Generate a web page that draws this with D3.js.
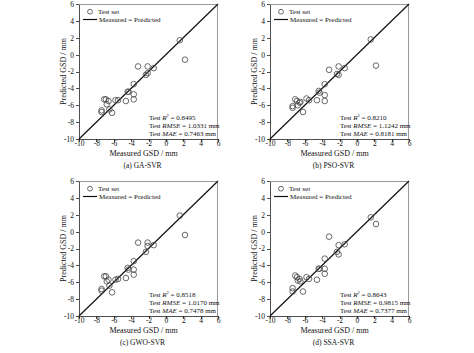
<!DOCTYPE html>
<html lang="en">
<head>
  <meta charset="utf-8">
  <title>GSD predictions</title>
  <script src="https://d3js.org/d3.v7.min.js"></script>
  <style>
    body { margin: 0; background: #fff; }
    svg text { font-family: "Liberation Serif", "Times New Roman", serif; fill: #111; }
    .axis path, .axis line { stroke: #222; stroke-width: 0.8; shape-rendering: crispEdges; }
    .axis text { font-size: 7.5px; }
  </style>
</head>
<body>
<script type="text/javascript">

  // measured GSD of the test set (same for all models)
  var measured = [1.6, 2.2, -3.2, -2.1, -1.4, -2.3, -2.1, -3.7, -4.4, -4.3, -3.7, -3.7,
                  -4.6, -5.8, -5.5, -7.1, -6.9, -6.6, -6.8, -7.4, -7.4, -6.2, -6.5];

  // predicted GSD per model
  var predGA  = [1.7, -0.6, -1.4, -1.4, -1.6, -2.4, -2.2, -3.5, -4.4, -4.4, -4.7, -5.3,
                 -5.5, -5.4, -5.4, -5.3, -5.3, -5.5, -5.9, -6.6, -6.8, -6.9, -6.5];
  var predPSO = [1.8, -1.3, -1.8, -1.4, -1.6, -2.3, -2.4, -3.5, -4.3, -4.5, -4.8, -5.5,
                 -5.4, -5.2, -5.4, -5.3, -5.5, -5.7, -6.0, -6.1, -6.3, -6.8, -5.6];
  var predGWO = [1.9, -0.4, -1.3, -1.3, -1.6, -2.4, -1.7, -3.5, -4.3, -4.5, -4.5, -5.1,
                 -5.5, -5.7, -5.6, -5.3, -5.3, -5.7, -5.9, -6.8, -7.0, -7.2, -6.4];
  var predSSA = [1.7, 0.9, -0.6, -1.6, -1.5, -2.4, -2.7, -3.2, -4.4, -4.4, -4.4, -5.0,
                 -5.7, -5.4, -5.6, -5.2, -5.4, -5.6, -5.8, -6.7, -7.1, -7.1, -5.9];

  var captions = ["(a) GA-SVR", "(b) PSO-SVR", "(c) GWO-SVR", "(d) SSA-SVR"];
  var r2Values   = ["0.8495", "0.8210", "0.8518", "0.8643"];
  var rmseValues = ["1.0331", "1.1242", "1.0170", "0.9815"];
  var maeValues  = ["0.7463", "0.8181", "0.7478", "0.7377"];

  var tickValues = [-10, -8, -6, -4, -2, 0, 2, 4, 6];
  var axisDomain = [-10, 6];

  var predictions = [predGA, predPSO, predGWO, predSSA];

  var width = 474, height = 353;
  var plotW = 139, plotH = 135;
  var origins = [[79, 4], [270, 4], [79, 181], [270, 181]];

  var svg = d3.select("body").append("svg")
              .attr("width", width)
              .attr("height", height);

  var xScale = d3.scaleLinear().domain(axisDomain).range([0, plotW]);
  var yScale = d3.scaleLinear().domain(axisDomain).range([plotH, 0]);

  function drawPanel(i) {
    var g = svg.append("g")
               .attr("transform", "translate(" + origins[i][0] + "," + origins[i][1] + ")");

    // top / right frame in gray
    g.append("line").attr("x1", 0).attr("x2", plotW).attr("y1", 0.5).attr("y2", 0.5)
     .attr("stroke", "#9a9a9a").attr("stroke-width", 1);
    g.append("line").attr("x1", plotW - 0.5).attr("x2", plotW - 0.5).attr("y1", 0).attr("y2", plotH)
     .attr("stroke", "#9a9a9a").attr("stroke-width", 1);

    var xAxis = d3.axisBottom(xScale).tickValues(tickValues).tickSize(3).tickSizeOuter(0)
                  .tickFormat(function(d) { return String(d); });
    var yAxis = d3.axisLeft(yScale).tickValues(tickValues).tickSize(3).tickSizeOuter(0)
                  .tickFormat(function(d) { return String(d); });

    g.append("g").attr("class", "axis")
     .attr("transform", "translate(0," + plotH + ")")
     .call(xAxis)
     .selectAll("text").attr("dy", "0.55em").attr("y", 3);

    g.append("g").attr("class", "axis")
     .call(yAxis)
     .selectAll("text").attr("x", -5);

    // 1:1 line
    g.append("line")
     .attr("x1", xScale(axisDomain[0])).attr("y1", yScale(axisDomain[0]))
     .attr("x2", xScale(axisDomain[1])).attr("y2", yScale(axisDomain[1]))
     .attr("stroke", "#111").attr("stroke-width", 1.2);

    // points
    var pts = measured.map(function(m, k) { return {x: m, y: predictions[i][k]}; });
    g.selectAll("circle.pt").data(pts).enter()
     .append("circle")
     .attr("class", "pt")
     .attr("cx", function(d) { return xScale(d.x); })
     .attr("cy", function(d) { return yScale(d.y); })
     .attr("r", 2.8)
     .attr("fill", "none")
     .attr("stroke", "#444")
     .attr("stroke-width", 0.8);

    // legend
    g.append("circle").attr("cx", 11).attr("cy", 7.7).attr("r", 2.4)
     .attr("fill", "none").attr("stroke", "#444").attr("stroke-width", 0.8);
    g.append("text").attr("x", 19).attr("y", 10.3).attr("font-size", "7px").text("Test set");
    g.append("line").attr("x1", 4).attr("x2", 18).attr("y1", 15.5).attr("y2", 15.5)
     .attr("stroke", "#111").attr("stroke-width", 1.2);
    g.append("text").attr("x", 20).attr("y", 18).attr("font-size", "7px").text("Measured = Predicted");

    // stats
    var t1 = g.append("text").attr("x", 70).attr("y", 115.5).attr("font-size", "7px");
    t1.append("tspan").text("Test ");
    t1.append("tspan").attr("font-style", "italic").text("R");
    t1.append("tspan").attr("font-size", "4.5px").attr("dy", -2.5).text("2");
    t1.append("tspan").attr("dy", 2.5).text(" = " + r2Values[i]);

    var t2 = g.append("text").attr("x", 70).attr("y", 123.5).attr("font-size", "7px");
    t2.append("tspan").text("Test ");
    t2.append("tspan").attr("font-style", "italic").text("RMSE");
    t2.append("tspan").text(" = " + rmseValues[i] + " mm");

    var t3 = g.append("text").attr("x", 70).attr("y", 131.5).attr("font-size", "7px");
    t3.append("tspan").text("Test ");
    t3.append("tspan").attr("font-style", "italic").text("MAE");
    t3.append("tspan").text(" = " + maeValues[i] + " mm");

    // axis titles
    g.append("text").attr("x", plotW / 2 - 5).attr("y", plotH + 17)
     .attr("text-anchor", "middle").attr("font-size", "8px")
     .text("Measured GSD / mm");
    g.append("text")
     .attr("transform", "translate(-13," + (plotH / 2) + ") rotate(-90)")
     .attr("text-anchor", "middle").attr("font-size", "8px")
     .text("Predicted GSD / mm");

    // caption
    g.append("text").attr("x", plotW / 2 - 6).attr("y", plotH + 29)
     .attr("text-anchor", "middle").attr("font-size", "7.5px")
     .text(captions[i]);
  }

  for (var i = 0; i < 4; i++) {
    drawPanel(i);
  }

</script>
</body>
</html>
